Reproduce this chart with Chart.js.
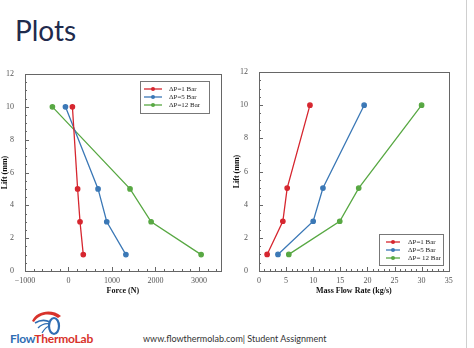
<!DOCTYPE html>
<html>
<head>
<meta charset="utf-8">
<script src="https://cdn.jsdelivr.net/npm/chart.js@4/dist/chart.umd.min.js"></script>
<style>
  html, body { margin: 0; padding: 0; background: #fff; }
  body { width: 474px; height: 348px; position: relative; overflow: hidden; font-family: Lato, "Open Sans", sans-serif; }
  .edge { position: absolute; left: 466px; top: 0; width: 1px; height: 348px; background: #cfcfcf; }
  h1 { position: absolute; left: 15px; top: 13px; margin: 0; font-weight: 400; font-size: 28px; color: #1f2b4d; }
  .box { position: absolute; top: 60px; width: 226px; height: 240px; }
  #left { left: 0; }
  #right { left: 228px; }
  .foot { position: absolute; left: 143px; top: 333px; font-size: 9px; color: #333; }
  .brand { position: absolute; left: 10px; top: 331px; font-size: 12px; font-weight: 700; letter-spacing: -0.2px; }
  .brand .f { color: #2f6db3; }
  .brand .t { color: #d8322b; }
  svg.logo { position: absolute; left: 30px; top: 309px; }
</style>
</head>
<body>
<div class="edge"></div>
<h1>Plots</h1>
<div class="box" id="left"><canvas id="forceChart" width="226" height="240"></canvas></div>
<div class="box" id="right"><canvas id="flowChart" width="226" height="240"></canvas></div>

<svg class="logo" width="34" height="28" viewBox="0 0 34 28">
  <path d="M2 12 C 6 2, 22 -1, 31 7 L 28 9 C 20 3, 9 5, 4 13 Z" fill="#d8322b"/>
  <ellipse cx="24" cy="17" rx="5" ry="8" fill="none" stroke="#2f6db3" stroke-width="2.2"/>
  <path d="M5 14 C 10 11, 16 11, 20 13" fill="none" stroke="#2f6db3" stroke-width="1.6"/>
  <path d="M8 19 C 12 15, 16 14, 20 15" fill="none" stroke="#2f6db3" stroke-width="1.4"/>
  <path d="M12 24 C 15 19, 18 17, 20 17" fill="none" stroke="#2f6db3" stroke-width="1.2"/>
</svg>
<div class="brand"><span class="f">Flow</span><span class="t">ThermoLab</span></div>
<div class="foot">www.flowthermolab.com| Student Assignment</div>

<script>
// lift values shared by both plots (mm)
var lift = [10, 5, 3, 1];

// force on the valve (N) for each pressure drop
var force1 = [90, 210, 265, 340];
var force5 = [-70, 680, 880, 1320];
var force12 = [-370, 1415, 1900, 3050];

// mass flow rate (kg/s) for each pressure drop
var flow1 = [9.4, 5.2, 4.4, 1.5];
var flow5 = [19.4, 11.8, 10.0, 3.5];
var flow12 = [30.0, 18.4, 14.9, 5.5];

// axis tick values
var forceTicks = [-1000, 0, 1000, 2000, 3000];
var flowTicks = [0, 5, 10, 15, 20, 25, 30, 35];
var liftTicks = [0, 2, 4, 6, 8, 10, 12];

var labelsForce = ['\u0394P=1 Bar', '\u0394P=5 Bar', '\u0394P=12 Bar'];
var labelsFlow = ['\u0394P=1 Bar', '\u0394P=5 Bar', '\u0394P= 12 Bar'];
var colors = ['#d6262f', '#3b78b6', '#58a843'];

var serif = "'Liberation Serif', 'DejaVu Serif', serif";

function pts(xs, ys) {
  return xs.map(function (x, i) { return { x: x, y: ys[i] }; });
}

function makeSets(series, labels) {
  return series.map(function (s, i) {
    return {
      label: labels[i],
      data: pts(s, lift),
      borderColor: colors[i],
      backgroundColor: colors[i],
      pointBackgroundColor: colors[i],
      pointBorderColor: colors[i],
      pointRadius: 2.2,
      borderWidth: 1.3,
      showLine: true,
      tension: 0
    };
  });
}

function minus(v) {
  return v < 0 ? '\u2212' + Math.abs(v) : '' + v;
}

// frame, inward ticks and boxed legend drawn inside the plot area
var framePlugin = {
  id: 'frame',
  afterDatasetsDraw: function (chart, args, opts) {
    var ctx = chart.ctx, a = chart.chartArea;
    var xs = chart.scales.x, ys = chart.scales.y;
    ctx.save();
    ctx.strokeStyle = '#666';
    ctx.lineWidth = 1;
    ctx.strokeRect(Math.round(a.left) + 0.5, Math.round(a.top) + 0.5, Math.round(a.right - a.left), Math.round(a.bottom - a.top));
    ctx.beginPath();
    var v, p, major;
    for (v = xs.min; v <= xs.max + 1e-9; v += opts.xMinor) {
      p = Math.round(xs.getPixelForValue(v)) + 0.5;
      major = Math.abs(Math.round(v / opts.xMajor) * opts.xMajor - v) < 1e-6;
      ctx.moveTo(p, a.bottom);
      ctx.lineTo(p, a.bottom - (major ? 4 : 2));
    }
    for (v = ys.min; v <= ys.max + 1e-9; v += opts.yMinor) {
      p = Math.round(ys.getPixelForValue(v)) + 0.5;
      major = Math.abs(Math.round(v / 2) * 2 - v) < 1e-6;
      ctx.moveTo(a.left, p);
      ctx.lineTo(a.left + (major ? 4 : 2), p);
    }
    ctx.stroke();

    // legend box
    var lx = a.left + opts.legX, ly = a.top + opts.legY;
    ctx.strokeStyle = '#777';
    ctx.strokeRect(lx + 0.5, ly + 0.5, opts.legW, opts.legH);
    ctx.font = '7px ' + serif;
    ctx.textBaseline = 'middle';
    chart.data.datasets.forEach(function (ds, i) {
      var ry = ly + opts.rowY + i * opts.rowGap;
      ctx.strokeStyle = ds.borderColor;
      ctx.lineWidth = 1.3;
      ctx.beginPath();
      ctx.moveTo(lx + opts.lineX, ry);
      ctx.lineTo(lx + opts.lineX + opts.lineW, ry);
      ctx.stroke();
      ctx.fillStyle = ds.borderColor;
      ctx.beginPath();
      ctx.arc(lx + opts.lineX + opts.lineW / 2, ry, 2, 0, Math.PI * 2);
      ctx.fill();
      ctx.fillStyle = '#222';
      ctx.fillText(ds.label, lx + opts.textX, ry);
    });
    ctx.restore();
  }
};

function fixedTicks(values) {
  return function (s) { s.ticks = values.map(function (v) { return { value: v }; }); };
}

function axisOpts(min, max, xTicks, title, yWidth) {
  return {
    x: {
      type: 'linear', min: min, max: max,
      grid: { display: false }, border: { display: false },
      afterBuildTicks: fixedTicks(xTicks),
      ticks: { autoSkip: false, color: '#555', padding: -3, maxRotation: 0, font: { family: serif, size: 8 }, callback: minus },
      title: { display: true, text: title, color: '#111', padding: { top: 0, bottom: 0 }, font: { family: serif, size: 8, weight: 'bold' } },
      afterFit: function (s) { s.height = 25; }
    },
    y: {
      type: 'linear', min: 0, max: 12,
      grid: { display: false }, border: { display: false },
      afterBuildTicks: fixedTicks(liftTicks),
      ticks: { autoSkip: false, color: '#555', padding: 3, font: { family: serif, size: 8 } },
      title: { display: true, text: 'Lift (mm)', color: '#111', padding: { top: 0, bottom: 2 }, font: { family: serif, size: 8, weight: 'bold' } },
      afterFit: function (s) { s.width = yWidth; }
    }
  };
}

new Chart(document.getElementById('forceChart'), {
  type: 'scatter',
  data: { datasets: makeSets([force1, force5, force12], labelsForce) },
  options: {
    responsive: false,
    animation: false,
    layout: { padding: { top: 14, right: 4, left: 0, bottom: 4 } },
    scales: axisOpts(-1000, 3500, forceTicks, 'Force (N)', 25),
    plugins: {
      legend: { display: false },
      tooltip: { enabled: false },
      frame: { xMajor: 1000, xMinor: 200, yMinor: 0.5,
        legX: 115, legY: 7, legW: 69, legH: 32, rowY: 8, rowGap: 8, lineX: 4, lineW: 18, textX: 29 }
    }
  },
  plugins: [framePlugin]
});

new Chart(document.getElementById('flowChart'), {
  type: 'scatter',
  data: { datasets: makeSets([flow1, flow5, flow12], labelsFlow) },
  options: {
    responsive: false,
    animation: false,
    layout: { padding: { top: 12, right: 4, left: 4, bottom: 4 } },
    scales: axisOpts(0, 35, flowTicks, 'Mass Flow Rate (kg/s)', 27),
    plugins: {
      legend: { display: false },
      tooltip: { enabled: false },
      frame: { xMajor: 5, xMinor: 1, yMinor: 0.5,
        legX: 120, legY: 162, legW: 64, legH: 31, rowY: 8, rowGap: 8, lineX: 7, lineW: 14, textX: 29 }
    }
  },
  plugins: [framePlugin]
});
</script>
</body>
</html>
